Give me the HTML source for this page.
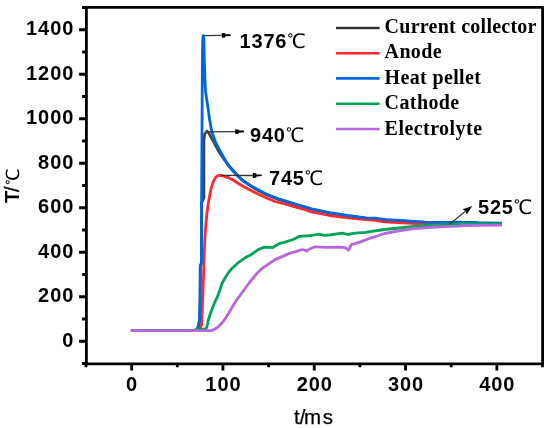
<!DOCTYPE html>
<html><head><meta charset="utf-8"><style>
html,body{margin:0;padding:0;background:#fff;width:550px;height:428px;overflow:hidden}
svg{display:block}
.tl{font-family:"Liberation Sans",Arial,sans-serif;font-weight:bold;font-size:20px;fill:#000;letter-spacing:0.9px}
.an{font-family:"Liberation Sans",Arial,sans-serif;font-weight:bold;font-size:20px;fill:#000;letter-spacing:0.8px}
.deg{font-family:"Liberation Sans","WenQuanYi Zen Hei","Noto Sans CJK SC",sans-serif;font-weight:normal;letter-spacing:0}
.at{font-family:"Liberation Sans",Arial,sans-serif;font-size:20px;fill:#000}
.xt{font-family:"Liberation Sans",Arial,sans-serif;font-size:20.5px;fill:#000;stroke:#000;stroke-width:0.25px;letter-spacing:0}
.lg{font-family:"Liberation Serif","Times New Roman",serif;font-weight:bold;font-size:20px;fill:#000;letter-spacing:0.35px}
</style></head><body>
<svg width="550" height="428" viewBox="0 0 550 428">
<polyline points="131.0,330.6 196.3,330.6 197.4,329.0 198.7,325.0 199.6,319.0 200.1,300.0 200.3,266.0 201.4,263.0 201.6,203.0 203.9,198.0 203.9,140.0 204.7,134.0 207.1,131.0 209.5,134.3 213.5,141.6 218.3,150.6 224.3,159.6 229.8,166.8 235.2,172.6 241.5,179.5 255.0,188.7 266.7,194.7 278.4,199.4 293.2,203.8 311.4,209.2 329.5,213.1 347.7,215.9 365.9,218.2 386.0,220.0 403.5,221.1 425.3,222.5 450.0,222.9 476.0,223.0 502.0,223.3" fill="none" stroke="#444444" stroke-width="2.8" stroke-linejoin="round" stroke-linecap="butt"/>
<polyline points="131.0,330.6 198.5,330.6 200.3,328.0 201.7,324.0 202.6,302.0 203.9,264.6 204.8,240.0 205.7,226.0 207.0,212.9 208.1,204.7 209.5,196.5 211.1,188.4 213.5,181.0 216.0,176.9 218.0,175.6 220.1,175.3 224.2,176.1 228.0,177.6 231.7,179.3 243.3,186.5 255.0,192.5 266.7,198.0 275.0,201.5 285.0,204.0 293.2,206.5 305.0,209.6 311.4,211.9 329.5,215.5 347.7,217.8 365.9,219.6 375.0,220.4 384.5,221.9 402.0,222.9 428.0,224.2 450.0,224.7 461.0,224.7 476.0,224.3 502.0,224.2" fill="none" stroke="#ff2a2d" stroke-width="2.8" stroke-linejoin="round" stroke-linecap="butt"/>
<polyline points="131.0,330.6 196.3,330.6 197.4,329.0 198.7,325.0 199.6,319.0 200.1,300.0 200.3,266.0 201.4,263.0 201.6,200.0 202.0,131.0 202.4,60.0 202.7,40.0 203.2,35.6 203.8,38.0 204.3,60.0 205.0,80.0 205.5,91.0 206.8,100.0 208.3,110.0 209.6,119.8 211.6,131.0 215.6,142.3 220.6,152.0 227.0,163.3 232.2,170.2 236.7,174.9 243.3,181.0 246.8,183.3 255.0,188.1 257.7,189.4 266.7,194.2 278.4,198.9 285.0,200.8 293.2,203.3 305.0,206.8 311.4,208.8 329.5,212.7 347.7,215.5 365.9,217.8 375.0,218.2 386.0,219.6 403.5,220.7 425.3,222.1 450.0,222.3 461.0,222.2 462.0,222.4 476.5,222.4 477.0,223.0 502.0,223.2" fill="none" stroke="#0066e0" stroke-width="2.8" stroke-linejoin="round" stroke-linecap="butt"/>
<polyline points="131.0,330.6 194.0,330.6 197.0,329.1 205.5,329.1 206.7,327.5 207.5,324.5 208.2,320.5 210.2,314.0 212.3,308.4 214.8,302.0 217.5,296.7 219.6,290.8 221.0,286.5 222.2,283.0 225.5,277.2 229.0,271.8 232.5,268.0 236.0,264.8 239.3,261.8 245.0,257.8 250.9,254.7 255.0,252.0 258.2,249.6 264.0,247.2 272.7,247.5 276.0,245.5 280.0,243.3 284.1,242.3 293.2,239.5 299.5,236.3 311.4,235.5 318.6,234.1 324.1,235.4 329.5,235.0 342.3,233.2 347.7,234.5 355.0,233.2 365.9,232.3 370.0,231.6 384.5,229.5 399.0,228.0 413.6,226.3 428.2,225.3 450.0,224.5 461.0,224.0 476.0,223.8 502.0,224.0" fill="none" stroke="#00a655" stroke-width="2.8" stroke-linejoin="round" stroke-linecap="butt"/>
<polyline points="130.5,330.7 209.5,330.7 212.0,330.4 214.5,329.3 217.5,327.4 220.5,324.5 223.4,321.2 226.3,317.0 229.2,312.5 232.0,307.5 235.0,302.5 238.0,298.0 240.9,294.3 243.8,290.2 246.7,286.2 249.5,282.5 252.4,279.0 257.5,272.7 262.0,268.5 266.9,265.1 271.0,262.3 275.0,259.6 282.0,256.6 289.0,253.6 293.2,252.3 302.3,249.5 304.5,250.0 306.8,251.2 309.5,249.0 315.0,246.8 325.9,247.4 338.6,247.2 344.1,247.4 346.5,248.5 348.6,250.1 351.4,244.6 360.5,241.9 370.0,238.2 375.0,236.8 384.5,233.5 399.0,230.9 413.6,228.7 435.5,227.0 450.0,226.3 461.0,226.1 462.0,225.6 476.0,225.4 502.0,225.2" fill="none" stroke="#b964e0" stroke-width="2.8" stroke-linejoin="round" stroke-linecap="butt"/>
<rect x="86.4" y="7.45" width="456.20" height="356.35" fill="none" stroke="#000" stroke-width="2.8" stroke-linejoin="round"/>
<path d="M82.10,363.50H86.4 M79.10,341.25H86.4 M82.10,319.00H86.4 M79.10,296.75H86.4 M82.10,274.50H86.4 M79.10,252.25H86.4 M82.10,230.00H86.4 M79.10,207.75H86.4 M82.10,185.50H86.4 M79.10,163.25H86.4 M82.10,141.00H86.4 M79.10,118.75H86.4 M82.10,96.50H86.4 M79.10,74.25H86.4 M82.10,52.00H86.4 M79.10,29.75H86.4 M82.10,7.50H86.4 M86.00,363.8V367.20 M131.65,363.8V370.60 M177.30,363.8V367.20 M222.95,363.8V370.60 M268.60,363.8V367.20 M314.25,363.8V370.60 M359.90,363.8V367.20 M405.55,363.8V370.60 M451.20,363.8V367.20 M496.85,363.8V370.60 M542.50,363.8V367.20" stroke="#000" stroke-width="2.8" fill="none"/>
<text x="74.20" y="346.65" class="tl" text-anchor="end">0</text>
<text x="74.20" y="302.15" class="tl" text-anchor="end">200</text>
<text x="74.20" y="257.65" class="tl" text-anchor="end">400</text>
<text x="74.20" y="213.15" class="tl" text-anchor="end">600</text>
<text x="74.20" y="168.65" class="tl" text-anchor="end">800</text>
<text x="74.20" y="124.15" class="tl" text-anchor="end">1000</text>
<text x="74.20" y="79.65" class="tl" text-anchor="end">1200</text>
<text x="74.20" y="35.15" class="tl" text-anchor="end">1400</text>
<text x="132.10" y="391.3" class="tl" text-anchor="middle">0</text>
<text x="223.40" y="391.3" class="tl" text-anchor="middle">100</text>
<text x="314.70" y="391.3" class="tl" text-anchor="middle">200</text>
<text x="406.00" y="391.3" class="tl" text-anchor="middle">300</text>
<text x="497.30" y="391.3" class="tl" text-anchor="middle">400</text>
<text class="at" transform="translate(18.6,202.9) rotate(-90)"><tspan font-weight="bold">T</tspan><tspan dx="-1.2" stroke="#000" stroke-width="0.35">/</tspan><tspan class="deg" font-size="18" dx="1.3">℃</tspan></text>
<text class="xt" x="294" y="424.3">t/<tspan dx="-1.4">m</tspan><tspan dx="1.7">s</tspan></text>
<line x1="336" y1="28.0" x2="379.6" y2="28.0" stroke="#333333" stroke-width="2.6"/>
<text class="lg" x="384.6" y="33.1" style="letter-spacing:0.25px">Current collector</text>
<line x1="336" y1="53.3" x2="379.6" y2="53.3" stroke="#ff2a2d" stroke-width="2.6"/>
<text class="lg" x="384.6" y="58.4" style="letter-spacing:0.35px">Anode</text>
<line x1="336" y1="78.4" x2="379.6" y2="78.4" stroke="#0066e0" stroke-width="2.6"/>
<text class="lg" x="384.6" y="83.6" style="letter-spacing:0.35px">Heat pellet</text>
<line x1="336" y1="103.8" x2="379.6" y2="103.8" stroke="#00a655" stroke-width="2.6"/>
<text class="lg" x="384.6" y="108.8" style="letter-spacing:0.4px">Cathode</text>
<line x1="336" y1="129.0" x2="379.6" y2="129.0" stroke="#b964e0" stroke-width="2.6"/>
<text class="lg" x="384.6" y="134.6" style="letter-spacing:0.45px">Electrolyte</text>
<line x1="203" y1="35.6" x2="221.80" y2="35.40" stroke="#333" stroke-width="1.3"/><polygon points="221.77,33.00 225.18,33.16 225.39,34.26 230.19,34.31 230.80,34.90 230.81,35.90 225.41,36.36 225.22,37.56 221.83,37.80" fill="#000"/>
<line x1="207" y1="131.9" x2="235.20" y2="131.67" stroke="#333" stroke-width="1.3"/><polygon points="235.18,129.27 238.58,129.45 238.79,130.54 243.59,130.60 244.20,131.20 244.20,132.20 238.81,132.64 238.62,133.85 235.22,134.07" fill="#000"/>
<line x1="221" y1="175.4" x2="252.80" y2="175.48" stroke="#333" stroke-width="1.3"/><polygon points="252.81,173.08 256.21,173.29 256.40,174.39 261.20,174.50 261.80,175.10 261.80,176.10 256.40,176.49 256.19,177.69 252.79,177.88" fill="#000"/>
<line x1="449.2" y1="224.5" x2="465.20" y2="211.56" stroke="#333" stroke-width="1.2"/><polygon points="462.74,209.31 472.20,205.90 466.89,214.44 465.51,211.31" fill="#000"/>
<text class="an" x="239.6" y="47.5">1376<tspan class="deg">℃</tspan></text>
<text class="an" x="250" y="141.5">940<tspan class="deg">℃</tspan></text>
<text class="an" x="269" y="184.5">745<tspan class="deg">℃</tspan></text>
<text class="an" x="478" y="213.8">525<tspan class="deg">℃</tspan></text>
</svg>
</body></html>
